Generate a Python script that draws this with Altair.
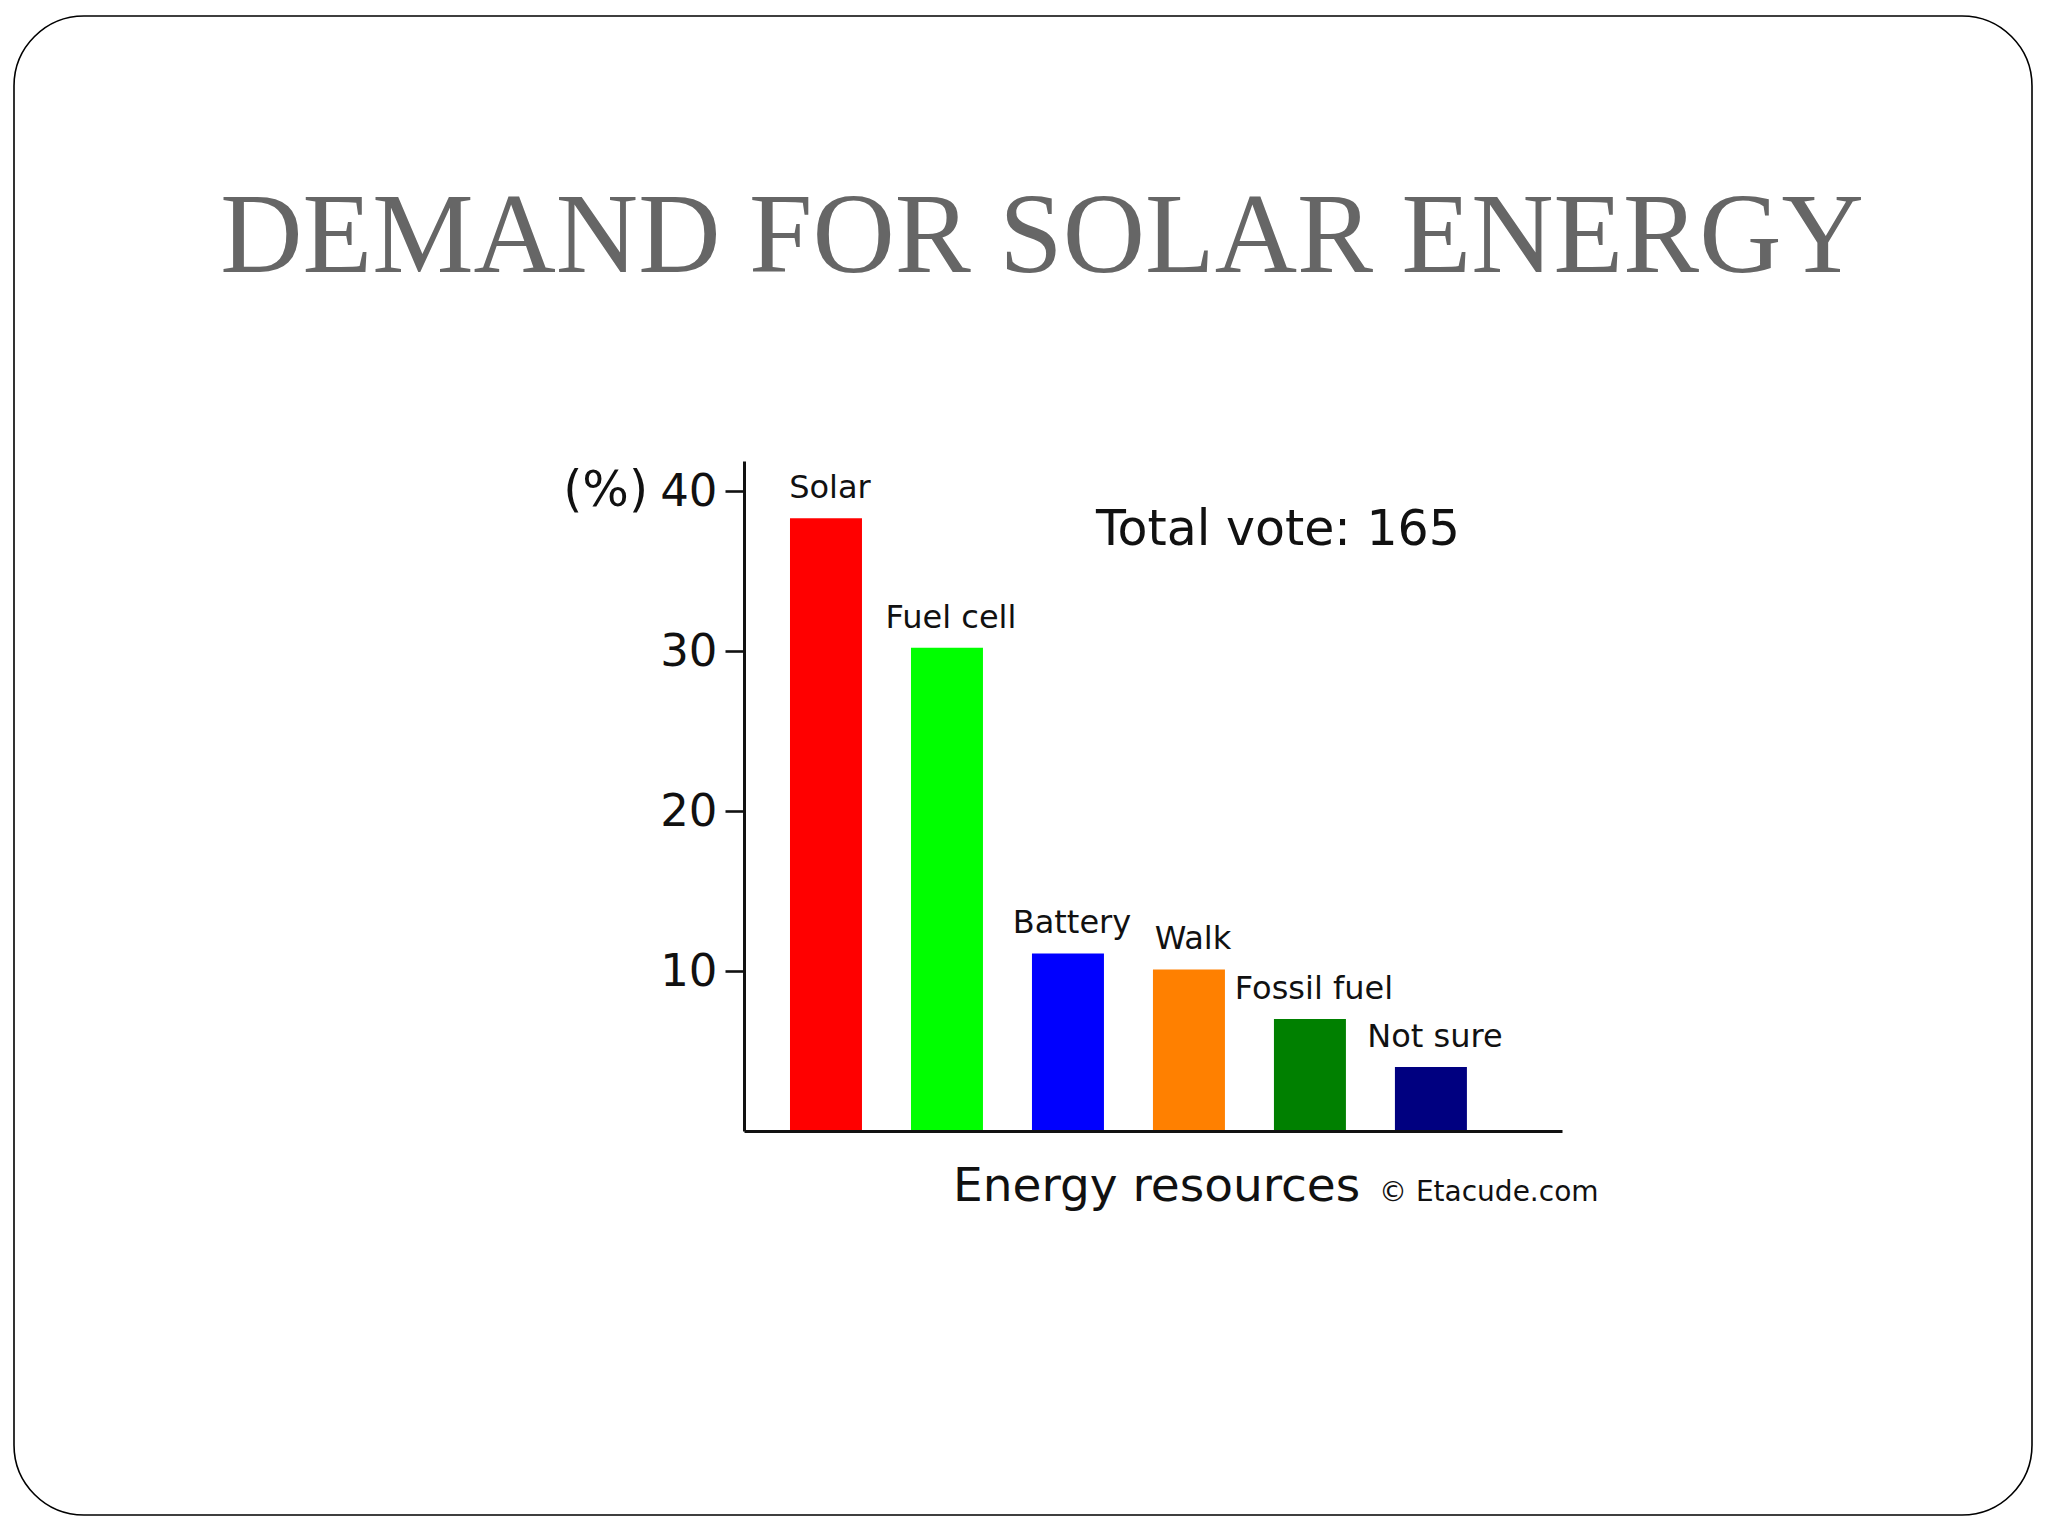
import altair as alt
import pandas as pd

categories = ["Solar", "Fuel cell", "Battery", "Walk", "Fossil fuel", "Not sure"]
percent = [38.3, 30.2, 11.1, 10.1, 7.0, 4.0]
bar_colors = ["#ff0000", "#00ff00", "#0000ff", "#ff8000", "#008000", "#000080"]
y_ticks = [10, 20, 30, 40]

title_text = "DEMAND FOR SOLAR ENERGY"
unit_text = "(%)"
total_text = "Total vote: 165"
xtitle_text = "Energy resources"
credit_text = "© Etacude.com"

df = pd.DataFrame({"cat": categories, "pct": percent})

FONT = "DejaVu Sans"
W, H = 818, 670

x = alt.X("cat:N", sort=categories,
          scale=alt.Scale(paddingInner=0.405, paddingOuter=0.583, align=0.326),
          axis=alt.Axis(labels=False, ticks=False, title=None, domainColor="#111",
                        domainWidth=3, grid=False, zindex=2))
y = alt.Y("pct:Q", scale=alt.Scale(domain=[0, 41.875], nice=False, zero=True),
          axis=alt.Axis(values=y_ticks, title=None, grid=False, tickSize=19, tickWidth=2.6,
                        tickColor="#111", domainColor="#111", domainWidth=3,
                        labelFont=FONT, labelFontSize=45, labelColor="#111",
                        labelPadding=8, zindex=2))

bars = alt.Chart(df).mark_bar().encode(
    x=x, y=y,
    color=alt.Color("cat:N", sort=categories,
                    scale=alt.Scale(domain=categories, range=bar_colors), legend=None),
)

labels = alt.Chart(df).mark_text(font=FONT, fontSize=32, color="#111", dy=-20, dx=4,
                                 baseline="alphabetic", align="center").encode(
    x=alt.X("cat:N", sort=categories), y="pct:Q", text="cat:N")

def txt(t, xp, yp, size, align="left", font=FONT, color="#111"):
    return alt.Chart(pd.DataFrame({"t": [t]})).mark_text(
        font=font, fontSize=size, align=align, baseline="alphabetic", color=color
    ).encode(x=alt.value(xp), y=alt.value(yp), text="t:N")

border = alt.Chart(pd.DataFrame({"a": [0]})).mark_rect(
    fillOpacity=0, stroke="#000", strokeWidth=1.6, cornerRadius=70
).encode(x=alt.value(-730), x2=alt.value(1288), y=alt.value(-445), y2=alt.value(1054))

title = txt(title_text, 298, -189, 114, align="center",
            font="Liberation Serif, Times New Roman, serif", color="#666666")
unit = txt(unit_text, -96, 45, 49, align="right")
total = txt(total_text, 352, 84, 49)
xtitle = txt(xtitle_text, 209, 740, 47)
credit = txt(credit_text, 635, 740, 28)

chart = alt.layer(border, title, bars, labels, unit, total, xtitle, credit).properties(
    width=W, height=H,
    autosize=alt.AutoSizeParams(type="none"),
    padding={"left": 736, "top": 453, "right": 474, "bottom": 390},
    background="white",
).configure_view(stroke=None)

chart.save("out.html", embed_options={"renderer": "svg", "actions": False})
